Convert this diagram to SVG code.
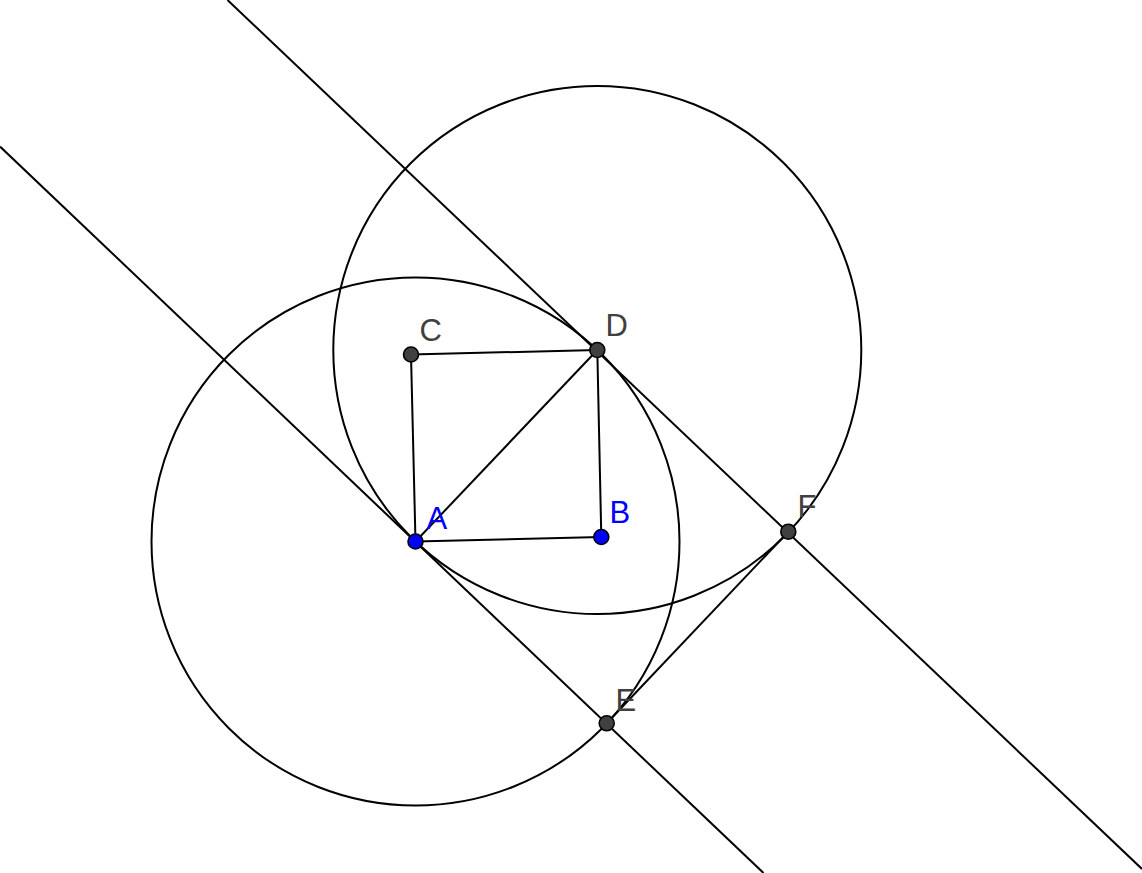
<svg xmlns="http://www.w3.org/2000/svg" width="1142" height="873" viewBox="0 0 1142 873">
<style>
.ln{stroke:#000;stroke-width:2;fill:none}
.pt{stroke:#000;stroke-width:1.6}
.g{fill:#404040}
.b{fill:#0000ff}
.lbl{font-family:"Liberation Sans",Arial,sans-serif;font-size:31px}
</style>
<rect width="1142" height="873" fill="#fff"/>
<g id="connectors">
<line class="ln" x1="0" y1="146.5" x2="763.5" y2="873"/>
<line class="ln" x1="227.5" y1="0" x2="1142" y2="869"/>
<circle class="ln" cx="415.5" cy="541.5" r="264"/>
<circle class="ln" cx="597.3" cy="350" r="264"/>
<line class="ln" x1="411" y1="354.5" x2="597.3" y2="350"/>
<line class="ln" x1="411" y1="354.5" x2="415.5" y2="541.5"/>
<line class="ln" x1="415.5" y1="541.5" x2="597.3" y2="350"/>
<line class="ln" x1="597.3" y1="350" x2="601.3" y2="537"/>
<line class="ln" x1="415.5" y1="541.5" x2="601.3" y2="537"/>
<line class="ln" x1="606.7" y1="723.3" x2="788.3" y2="531.7"/>
</g>
<g id="C"><circle class="pt g" cx="411" cy="354.5" r="7.5"/><text class="lbl g" x="419.5" y="341">C</text></g>
<g id="D"><circle class="pt g" cx="597.3" cy="350" r="7.5"/><text class="lbl g" x="605.5" y="336">D</text></g>
<g id="E"><circle class="pt g" cx="606.7" cy="723.3" r="7.5"/><text class="lbl g" x="615.5" y="710.5">E</text></g>
<g id="F"><circle class="pt g" cx="788.3" cy="531.7" r="7.5"/><text class="lbl g" x="797.5" y="517">F</text></g>
<g id="A"><circle class="pt b" cx="415.5" cy="541.5" r="7.5"/><text class="lbl b" x="426.5" y="528.5">A</text></g>
<g id="B"><circle class="pt b" cx="601.3" cy="537" r="7.5"/><text class="lbl b" x="609.5" y="522.5">B</text></g>
</svg>
